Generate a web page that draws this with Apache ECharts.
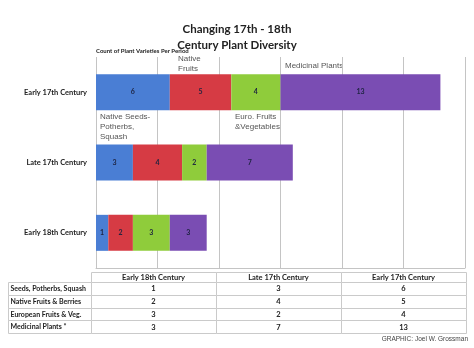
<!DOCTYPE html>
<html><head><meta charset="utf-8">
<script src="https://cdn.jsdelivr.net/npm/echarts@6/dist/echarts.min.js"></script>
<style>html,body{margin:0;padding:0;background:#fff}#c{width:474px;height:348px}</style>
</head><body><div id="c"></div>
<script>
const periods = ['Early 18th Century', 'Late 17th Century', 'Early 17th Century'];
const groupNames = ['Seeds, Potherbs, Squash', 'Native Fruits & Berries', 'European Fruits & Veg.', 'Medicinal Plants *'];
const seeds = [1, 3, 6];
const nativeFruits = [2, 4, 5];
const euroFruits = [3, 2, 4];
const medicinal = [3, 7, 13];
const xMin = 0, xMax = 30, xStep = 5;

const FONT = "Lato, 'Liberation Sans', sans-serif";
const ARIAL = "'Liberation Sans', Arial, sans-serif";
const colors = ['#4a7ed4', '#d63b44', '#8fcc3b', '#7a4db3'];
const allSeries = [seeds, nativeFruits, euroFruits, medicinal];

const bars = allSeries.map((d, i) => ({
  type: 'bar', name: groupNames[i], stack: 'total', data: d, barWidth: 36,
  xAxisIndex: 0, yAxisIndex: 0,
  itemStyle: { color: colors[i] },
  label: { show: true, position: 'inside', color: '#1d2340', fontSize: 7, fontWeight: 'bold', fontFamily: FONT }
}));

// table cells
const cellData = [];
allSeries.forEach((d, r) => d.forEach((v, c) => cellData.push([c, r, v])));
const headerData = periods.map((p, c) => [c, 0, c]);
const rowLabelData = groupNames.map((n, r) => [0, r, r]);

function cellRender(textFn, align, size) {
  return function (params, api) {
    const p = api.coord([api.value(0), api.value(1)]);
    const s = api.size([1, 1]);
    const x0 = Math.round(p[0] - s[0] / 2) + 0.5, y0 = Math.round(p[1] - s[1] / 2) + 0.5;
    return {
      type: 'group', children: [
        { type: 'rect', shape: { x: x0, y: y0, width: Math.round(s[0]), height: Math.round(s[1]) },
          style: { fill: '#fff', stroke: '#cacaca', lineWidth: 1 } },
        { type: 'text', style: { text: textFn(params), x: align === 'left' ? x0 + 2 : p[0], y: p[1] + 0.5,
          align: align, verticalAlign: 'middle', fill: '#222', font: "bold " + size + "px " + FONT } }
      ]
    };
  };
}

const option = {
  animation: false,
  title: {
    text: 'Changing 17th - 18th\nCentury Plant Diversity', left: 'center', top: 16,
    textStyle: { fontSize: 11.5, fontWeight: 'bold', fontFamily: FONT, color: '#222', lineHeight: 16 }
  },
  grid: [
    { left: 96, right: 9, top: 57, bottom: 80 },
    { left: 91, right: 8, top: 282, bottom: 15 },
    { left: 91, right: 8, top: 272, height: 10 },
    { left: 8, width: 83, top: 282, bottom: 15 }
  ],
  xAxis: [
    { type: 'value', gridIndex: 0, min: xMin, max: xMax, interval: xStep,
      axisLabel: { show: false }, axisTick: { show: false },
      axisLine: { show: true, lineStyle: { color: '#c4c4c4' } },
      splitLine: { show: true, lineStyle: { color: '#c4c4c4', width: 1 } } },
    { type: 'category', gridIndex: 1, data: periods, show: false },
    { type: 'category', gridIndex: 2, data: periods, show: false },
    { type: 'category', gridIndex: 3, data: [''], show: false }
  ],
  yAxis: [
    { type: 'category', gridIndex: 0, data: periods,
      axisLine: { show: false }, axisTick: { show: false },
      axisLabel: { color: '#222', fontSize: 7.5, fontWeight: 'bold', fontFamily: FONT, margin: 9 } },
    { type: 'category', gridIndex: 1, data: groupNames, inverse: true, show: false },
    { type: 'category', gridIndex: 2, data: [''], show: false },
    { type: 'category', gridIndex: 3, data: groupNames, inverse: true, show: false }
  ],
  series: bars.concat([
    { type: 'custom', xAxisIndex: 1, yAxisIndex: 1, data: cellData,
      renderItem: cellRender(p => String(cellData[p.dataIndex][2]), 'center', 7.5) },
    { type: 'custom', xAxisIndex: 2, yAxisIndex: 2, data: headerData,
      renderItem: cellRender(p => periods[p.dataIndex], 'center', 7.5) },
    { type: 'custom', xAxisIndex: 3, yAxisIndex: 3, data: rowLabelData,
      renderItem: cellRender(p => groupNames[p.dataIndex], 'left', 7) }
  ]),
  graphic: [
    { type: 'text', left: 96, top: 48, style: { text: 'Count of Plant Varieties Per Period', font: "bold 6px " + FONT, fill: '#222' } },
    { type: 'text', left: 178, top: 54, style: { text: 'Native\nFruits', font: "8px " + ARIAL, fill: '#555', lineHeight: 10 } },
    { type: 'text', left: 285, top: 62, style: { text: 'Medicinal Plants', font: "8px " + ARIAL, fill: '#555' } },
    { type: 'text', left: 100, top: 112, style: { text: 'Native Seeds-\nPotherbs,\nSquash', font: "8px " + ARIAL, fill: '#555', lineHeight: 10 } },
    { type: 'text', left: 235, top: 112, style: { text: 'Euro. Fruits\n&Vegetables', font: "8px " + ARIAL, fill: '#555', lineHeight: 10 } },
    { type: 'text', right: 6, top: 336, style: { text: 'GRAPHIC: Joel W. Grossman', font: "6.5px " + ARIAL, fill: '#444' } }
  ]
};
echarts.init(document.getElementById('c')).setOption(option);
</script></body></html>
